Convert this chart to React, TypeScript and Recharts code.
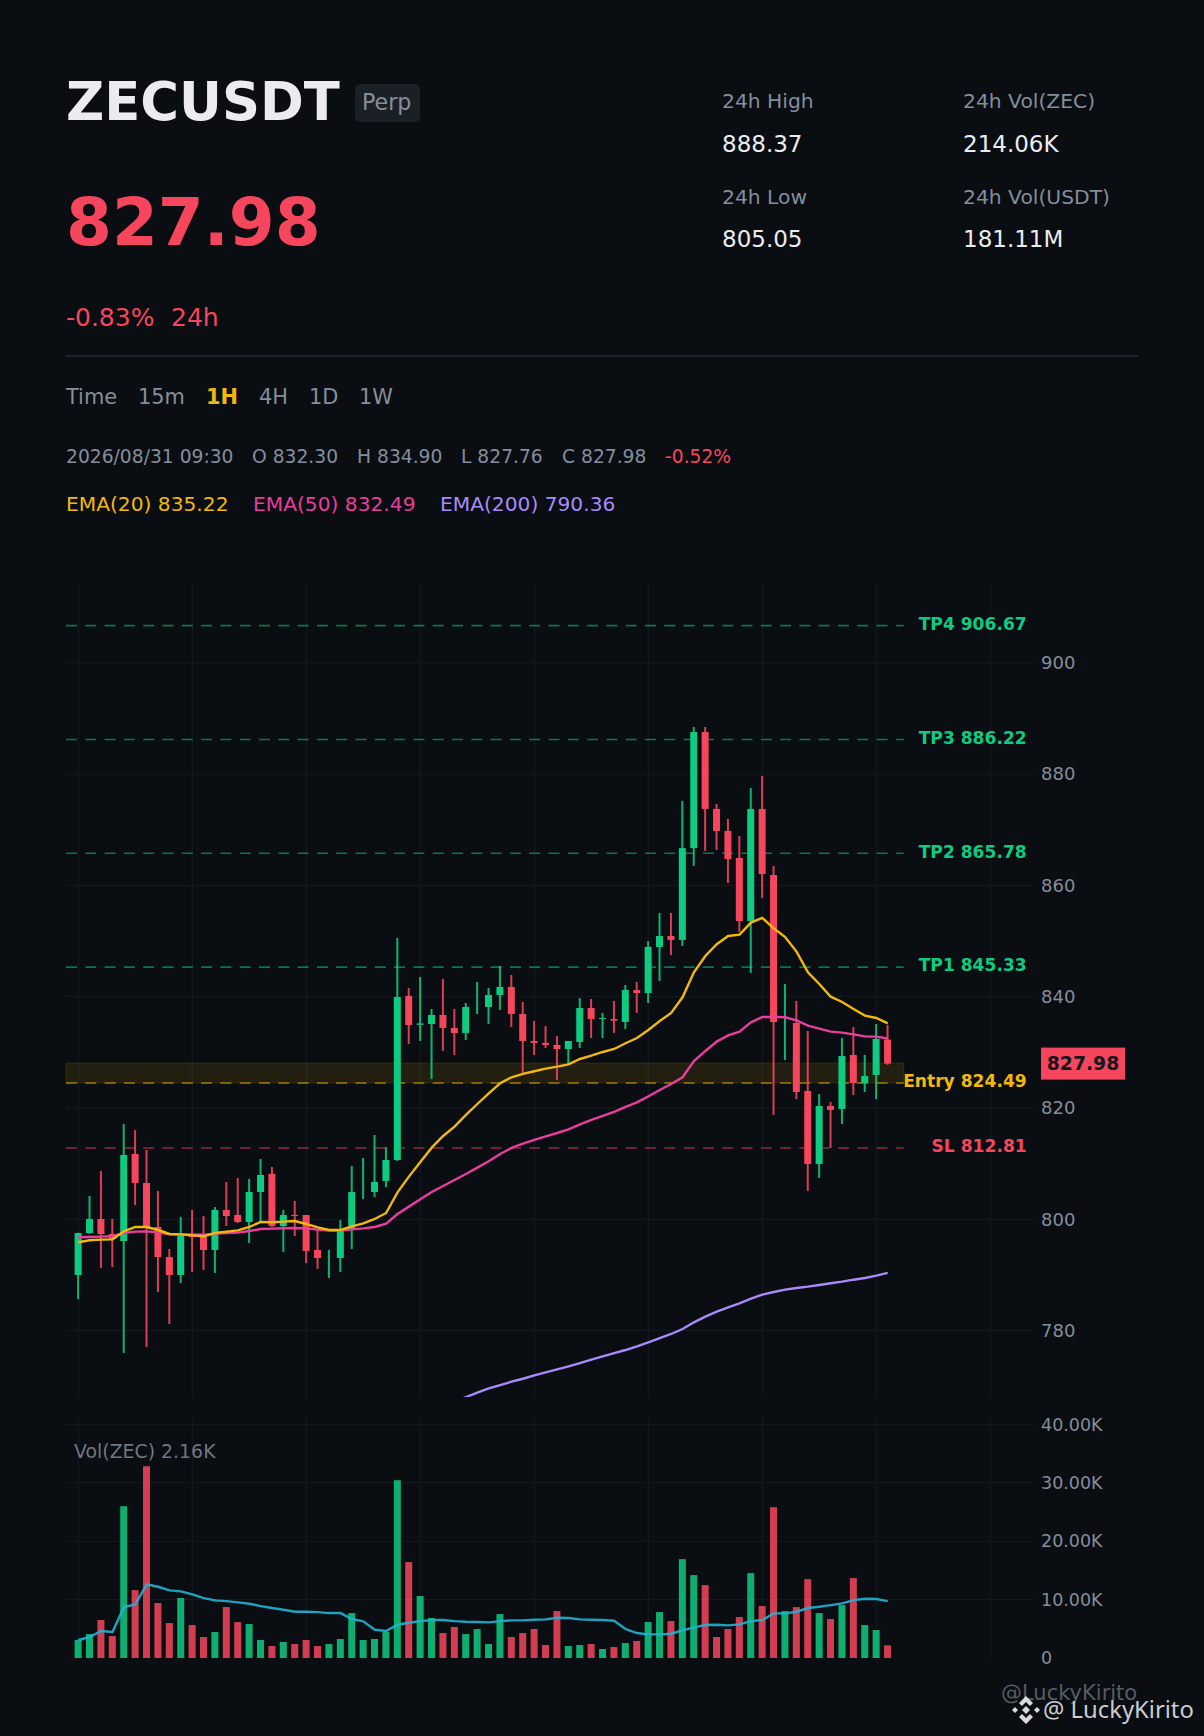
import React from 'react'
import {
  ComposedChart,
  Bar,
  Line,
  XAxis,
  YAxis,
  CartesianGrid,
  ReferenceLine,
  ReferenceArea,
  ReferenceDot
} from 'recharts'

const opens = [790.0, 797.54, 800.06, 797.36, 796.1, 811.74, 806.53, 798.62, 793.23, 790.0, 797.18, 796.83, 794.49, 801.68, 800.78, 799.52, 804.91, 808.15, 798.8, 800.78, 800.78, 794.49, 794.0, 793.05, 798.08, 805.0, 804.91, 806.89, 810.66, 840.13, 834.95, 835.1, 836.72, 834.38, 833.48, 838.0, 838.16, 840.31, 841.75, 836.9, 832.05, 831.7, 831.33, 830.6, 831.87, 837.97, 836.0, 836.0, 835.46, 841.2, 840.67, 848.94, 850.91, 850.2, 866.7, 887.57, 873.74, 869.78, 864.93, 853.6, 873.74, 861.87, 835.0, 835.28, 823.06, 809.94, 820.37, 819.83, 829.53, 824.5, 825.94, 832.3]
const closes = [797.54, 800.06, 797.36, 796.47, 811.56, 806.53, 798.62, 793.23, 790.0, 797.18, 796.83, 794.49, 801.68, 800.6, 799.52, 804.91, 807.97, 798.8, 800.78, 800.6, 794.31, 793.05, 794.0, 798.08, 804.91, 805.0, 806.71, 810.66, 839.95, 834.92, 835.2, 836.72, 834.38, 833.48, 838.16, 838.0, 840.31, 841.75, 836.9, 832.05, 831.7, 831.33, 830.6, 832.05, 837.97, 836.0, 836.18, 835.7, 841.2, 840.67, 848.94, 850.91, 850.2, 866.7, 887.57, 873.74, 869.78, 864.75, 853.6, 873.74, 862.05, 835.46, 835.0, 822.88, 809.94, 820.37, 819.65, 829.35, 824.5, 825.76, 832.41, 827.98]
const highs = [797.6, 804.2, 808.69, 800.06, 817.13, 816.05, 812.46, 805.09, 794.67, 800.42, 801.68, 800.6, 802.2, 806.7, 807.43, 807.25, 810.84, 809.4, 801.68, 803.3, 800.78, 798.1, 794.5, 799.88, 809.58, 811.02, 815.15, 813.0, 850.55, 841.57, 843.55, 837.8, 843.19, 837.8, 838.87, 842.65, 841.57, 845.52, 843.9, 839.05, 835.64, 834.74, 832.95, 832.05, 839.77, 839.6, 837.08, 839.23, 842.1, 842.65, 850.0, 855.05, 855.05, 875.17, 888.47, 888.47, 874.63, 871.94, 868.88, 877.5, 879.66, 863.49, 842.29, 839.23, 833.84, 822.52, 821.08, 832.58, 834.56, 829.53, 835.1, 834.9]
const lows = [785.68, 797.36, 791.25, 791.43, 775.98, 802.58, 777.06, 786.94, 781.19, 788.56, 790.54, 790.9, 790.36, 798.8, 799.34, 795.75, 799.5, 798.6, 794.13, 797.0, 792.15, 791.07, 789.46, 790.54, 794.67, 803.65, 804.0, 805.81, 810.48, 831.5, 832.05, 825.2, 830.25, 829.53, 832.23, 836.9, 835.1, 837.62, 834.56, 826.3, 829.53, 830.8, 825.04, 827.85, 830.8, 832.58, 832.58, 833.48, 834.2, 837.08, 838.87, 842.83, 847.5, 849.1, 863.5, 866.19, 866.37, 860.44, 851.63, 844.27, 857.74, 818.75, 828.63, 821.62, 805.09, 807.43, 812.82, 817.13, 822.34, 822.88, 821.62, 827.76]

const ema20 = [795.87, 796.23, 796.35, 796.4, 797.84, 798.62, 798.62, 798.08, 797.36, 797.3, 797.12, 796.95, 797.54, 797.78, 798.02, 798.62, 799.52, 799.46, 799.58, 799.7, 799.16, 798.56, 798.08, 798.08, 798.74, 799.28, 800.06, 801.14, 804.85, 807.67, 810.3, 812.88, 814.97, 816.65, 818.75, 820.72, 822.64, 824.44, 825.52, 826.12, 826.6, 827.07, 827.43, 827.85, 828.81, 829.41, 830.07, 830.61, 831.63, 832.58, 834.02, 835.64, 837.08, 839.89, 844.38, 847.32, 849.42, 850.91, 851.15, 853.31, 854.15, 852.29, 850.73, 848.1, 844.38, 842.29, 840.0, 839.05, 837.8, 836.6, 836.18, 835.22]
const ema50 = [796.77, 796.83, 796.89, 796.95, 797.54, 797.78, 797.84, 797.66, 797.3, 797.3, 797.3, 797.24, 797.42, 797.54, 797.6, 797.9, 798.26, 798.32, 798.38, 798.44, 798.38, 798.14, 797.96, 797.96, 798.2, 798.38, 798.62, 799.22, 800.96, 802.28, 803.59, 804.91, 805.99, 807.07, 808.15, 809.28, 810.42, 811.74, 812.82, 813.6, 814.26, 814.91, 815.51, 816.17, 817.07, 817.85, 818.57, 819.29, 820.19, 821.02, 822.1, 823.24, 824.32, 825.52, 828.45, 830.25, 831.93, 833.06, 833.72, 835.4, 836.36, 836.36, 836.3, 835.76, 834.8, 834.26, 833.72, 833.54, 833.24, 832.88, 832.82, 832.49]
const ema200 = [null, null, null, null, null, null, null, null, null, null, null, null, null, null, null, null, null, null, null, null, null, null, null, null, null, null, null, null, null, null, null, null, null, 767.3, 768.05, 768.84, 769.62, 770.22, 770.82, 771.35, 771.95, 772.49, 773.03, 773.57, 774.17, 774.77, 775.37, 775.97, 776.51, 777.17, 777.89, 778.67, 779.39, 780.29, 781.49, 782.51, 783.41, 784.19, 784.9, 785.74, 786.46, 786.94, 787.36, 787.66, 787.9, 788.2, 788.5, 788.8, 789.15, 789.45, 789.87, 790.36]

// volumes are in thousands of ZEC
const volumes = [3.08, 4.1, 6.5, 3.76, 25.98, 11.62, 32.82, 9.4, 5.98, 10.26, 5.64, 3.59, 4.44, 8.72, 6.15, 5.81, 3.08, 2.05, 2.74, 2.39, 3.08, 2.05, 2.39, 3.25, 7.69, 3.08, 3.25, 4.44, 30.43, 16.41, 10.6, 6.84, 4.27, 5.3, 4.1, 4.96, 2.39, 7.52, 3.59, 4.27, 4.96, 2.22, 8.03, 2.05, 2.22, 2.39, 1.54, 1.88, 2.56, 2.91, 6.15, 7.86, 6.32, 16.92, 14.19, 12.48, 3.59, 4.96, 7.01, 14.53, 8.89, 25.81, 8.03, 8.72, 13.5, 7.69, 6.67, 9.06, 13.68, 5.64, 4.79, 2.16]
const volumeMa = [3.08, 3.59, 4.62, 4.44, 8.72, 9.17, 12.59, 12.19, 11.57, 11.4, 10.88, 10.26, 9.86, 9.74, 9.52, 9.29, 8.89, 8.55, 8.26, 7.92, 7.92, 7.86, 7.69, 7.69, 6.67, 6.27, 4.84, 4.62, 5.7, 6.04, 6.32, 6.5, 6.5, 6.32, 6.21, 6.15, 6.1, 6.32, 6.44, 6.44, 6.55, 6.61, 6.89, 6.84, 6.61, 6.55, 6.5, 6.38, 4.96, 4.27, 4.05, 4.05, 4.16, 4.73, 5.24, 5.64, 5.7, 5.58, 5.75, 6.32, 6.5, 7.64, 7.64, 7.92, 8.55, 8.77, 9.06, 9.34, 9.91, 10.14, 10.09, 9.74]

const priceTicks = [780, 800, 820, 840, 860, 880, 900]
const volumeTicks = [0, 10, 20, 30, 40]
const timeGrid = [0, 10, 20, 30, 40, 50, 60, 70, 80]
const targets = [
  { name: 'TP4', price: 906.67 },
  { name: 'TP3', price: 886.22 },
  { name: 'TP2', price: 865.78 },
  { name: 'TP1', price: 845.33 }
]
const stopPrice = 812.81
const entryPrice = 824.49
const entryZoneTop = 828.1
const lastPrice = 827.98

const UP = '#0ecb81'
const DOWN = '#f6465d'
const GOLD = '#f0b90b'
const GRID = '#161b22'
const MUTED = '#848e9c'
const FONT = '"DejaVu Sans", sans-serif'

const X_MIN = -1.08
const X_MAX = 83.83
const LINE_END = 72.4

const rows = opens.map((open, i) => ({
  i,
  open,
  close: closes[i],
  high: highs[i],
  low: lows[i],
  ema20: ema20[i],
  ema50: ema50[i],
  ema200: ema200[i],
  volume: volumes[i],
  volumeMa: volumeMa[i]
}))

const isUp = (d: any) => d.close >= d.open

function Candle(props: any) {
  const { x, y, width, height, payload } = props
  const color = isUp(payload) ? UP : DOWN
  const perUnit = height / (payload.high - payload.low)
  const top = y + (payload.high - Math.max(payload.open, payload.close)) * perUnit
  const bodyHeight = Math.abs(payload.open - payload.close) * perUnit
  return (
    <g>
      <rect x={x + width / 2 - 1} y={y} width={2} height={height} fill={color} fillOpacity={0.88} />
      {bodyHeight > 0 && <rect x={x} y={top} width={width} height={bodyHeight} fill={color} />}
    </g>
  )
}

function VolumeBar(props: any) {
  const { x, y, width, height, payload } = props
  return <rect x={x} y={y} width={width} height={height} fill={isUp(payload) ? UP : DOWN} fillOpacity={0.85} />
}

const levelLabel = (text: string, color: string) => (p: any) => (
  <text
    x={p.viewBox.x + p.viewBox.width + 123}
    y={p.viewBox.y}
    dy="0.26em"
    textAnchor="end"
    fontSize={17.1}
    fontWeight={700}
    fontFamily={FONT}
    fill={color}
  >
    {text}
  </text>
)

function PriceTag(props: any) {
  const { cx, cy } = props
  return (
    <g>
      <rect x={cx + 7} y={cy - 16} width={84} height={32} fill={DOWN} />
      <text x={cx + 49} y={cy} dy="0.36em" textAnchor="middle" fontSize={18.8} fontWeight={700} fontFamily={FONT} fill="#14171c">
        {lastPrice.toFixed(2)}
      </text>
    </g>
  )
}

function Txt({ x, y, size, color, bold, children }: any) {
  return (
    <div
      style={{
        position: 'absolute',
        left: x,
        top: y,
        transform: 'translateY(-50%)',
        fontSize: size,
        lineHeight: 1,
        color,
        fontWeight: bold ? 700 : 400,
        whiteSpace: 'pre'
      }}
    >
      {children}
    </div>
  )
}

function Header() {
  return (
    <>
      <Txt x={66} y={102} size={52.8} color="#eaecef" bold>ZECUSDT</Txt>
      <div style={{ position: 'absolute', left: 355, top: 84, width: 65, height: 38, borderRadius: 5, background: '#1b1f26' }} />
      <Txt x={362} y={102} size={22.15} color={MUTED}>Perp</Txt>
      <Txt x={66} y={223} size={66} color={DOWN} bold>827.98</Txt>
      <Txt x={66} y={317} size={25} color={DOWN}>-0.83%</Txt>
      <Txt x={171} y={317} size={25} color={DOWN}>24h</Txt>

      <Txt x={722} y={101} size={20.3} color={MUTED}>24h High</Txt>
      <Txt x={722} y={144} size={23} color="#eaecef">888.37</Txt>
      <Txt x={722} y={197} size={20.3} color={MUTED}>24h Low</Txt>
      <Txt x={722} y={239} size={23} color="#eaecef">805.05</Txt>
      <Txt x={963} y={101} size={20.3} color={MUTED}>24h Vol(ZEC)</Txt>
      <Txt x={963} y={144} size={23} color="#eaecef">214.06K</Txt>
      <Txt x={963} y={197} size={20.3} color={MUTED}>24h Vol(USDT)</Txt>
      <Txt x={963} y={239} size={23} color="#eaecef">181.11M</Txt>

      <div style={{ position: 'absolute', left: 65, top: 355, width: 1074, height: 2, background: '#1c2230' }} />

      <Txt x={66} y={397} size={20.9} color={MUTED}>Time</Txt>
      <Txt x={138} y={397} size={20.9} color={MUTED}>15m</Txt>
      <Txt x={206} y={397} size={20.9} color={GOLD} bold>1H</Txt>
      <Txt x={259} y={397} size={20.9} color={MUTED}>4H</Txt>
      <Txt x={309} y={397} size={20.9} color={MUTED}>1D</Txt>
      <Txt x={359} y={397} size={20.9} color={MUTED}>1W</Txt>

      <Txt x={66} y={457} size={18.7} color={MUTED}>2026/08/31 09:30</Txt>
      <Txt x={252} y={457} size={18.7} color={MUTED}>O 832.30</Txt>
      <Txt x={357} y={457} size={18.7} color={MUTED}>H 834.90</Txt>
      <Txt x={461} y={457} size={18.7} color={MUTED}>L 827.76</Txt>
      <Txt x={562} y={457} size={18.7} color={MUTED}>C 827.98</Txt>
      <Txt x={665} y={457} size={18.7} color={DOWN}>-0.52%</Txt>

      <Txt x={66} y={504} size={20.2} color={GOLD}>EMA(20) 835.22</Txt>
      <Txt x={253} y={504} size={20.2} color="#e83e9c">EMA(50) 832.49</Txt>
      <Txt x={440} y={504} size={20.2} color="#a78bfa">EMA(200) 790.36</Txt>
    </>
  )
}

function PriceChart() {
  return (
    <ComposedChart width={1204} height={814} data={rows} margin={{ top: 0, right: 0, bottom: 0, left: 66 }}>
      <CartesianGrid stroke={GRID} horizontalValues={priceTicks} verticalValues={timeGrid} />
      <XAxis dataKey="i" type="number" domain={[X_MIN, X_MAX]} ticks={timeGrid} allowDataOverflow hide />
      <YAxis
        orientation="right"
        width={170}
        type="number"
        domain={[768.07, 914.34]}
        ticks={priceTicks}
        interval={0}
        allowDataOverflow
        tickLine={false}
        axisLine={false}
        tickMargin={1}
        tick={{ fill: MUTED, fontSize: 18, fontFamily: FONT }}
      />
      <ReferenceArea
        x1={X_MIN}
        x2={LINE_END}
        y1={entryPrice}
        y2={entryZoneTop}
        fill={GOLD}
        fillOpacity={0.11}
        stroke={GOLD}
        strokeOpacity={0.12}
        zIndex={50}
      />
      {targets.map(t => (
        <ReferenceLine
          key={t.name}
          segment={[{ x: X_MIN, y: t.price }, { x: LINE_END, y: t.price }]}
          stroke={UP}
          strokeOpacity={0.55}
          strokeWidth={1.7}
          strokeDasharray="11 8.3"
          zIndex={60}
          label={levelLabel(`${t.name} ${t.price.toFixed(2)}`, UP)}
        />
      ))}
      <ReferenceLine
        segment={[{ x: X_MIN, y: entryPrice }, { x: LINE_END, y: entryPrice }]}
        stroke={GOLD}
        strokeOpacity={0.6}
        strokeWidth={1.7}
        strokeDasharray="11 8.3"
        zIndex={60}
        label={levelLabel(`Entry ${entryPrice.toFixed(2)}`, GOLD)}
      />
      <ReferenceLine
        segment={[{ x: X_MIN, y: stopPrice }, { x: LINE_END, y: stopPrice }]}
        stroke={DOWN}
        strokeOpacity={0.55}
        strokeWidth={1.7}
        strokeDasharray="11 8.3"
        zIndex={60}
        label={levelLabel(`SL ${stopPrice.toFixed(2)}`, DOWN)}
      />
      <Bar dataKey={(d: any) => [d.low, d.high]} barSize={7} shape={Candle} isAnimationActive={false} />
      <Line dataKey="ema200" type="linear" stroke="#a78bfa" strokeWidth={2.4} dot={false} isAnimationActive={false} />
      <Line dataKey="ema50" type="linear" stroke="#e83e9c" strokeWidth={2.4} dot={false} isAnimationActive={false} />
      <Line dataKey="ema20" type="linear" stroke={GOLD} strokeWidth={2.4} dot={false} isAnimationActive={false} />
      <ReferenceDot x={X_MAX} y={lastPrice} ifOverflow="visible" shape={PriceTag} />
    </ComposedChart>
  )
}

function VolumeChart() {
  return (
    <ComposedChart width={1204} height={282} data={rows} margin={{ top: 20, right: 0, bottom: 22, left: 66 }}>
      <CartesianGrid stroke={GRID} horizontalValues={[10, 20, 30, 40]} verticalValues={timeGrid} />
      <XAxis dataKey="i" type="number" domain={[X_MIN, X_MAX]} ticks={timeGrid} allowDataOverflow hide />
      <YAxis
        orientation="right"
        width={170}
        type="number"
        domain={[0, 41.08]}
        ticks={volumeTicks}
        interval={0}
        allowDataOverflow
        tickLine={false}
        axisLine={false}
        tickMargin={1}
        tick={{ fill: MUTED, fontSize: 17.5, fontFamily: FONT }}
        tickFormatter={(v: number) => (v === 0 ? '0' : `${v.toFixed(2)}K`)}
      />
      <Bar dataKey="volume" barSize={7} shape={VolumeBar} isAnimationActive={false} />
      <Line dataKey="volumeMa" type="linear" stroke="#22b3d2" strokeOpacity={0.9} strokeWidth={2.4} dot={false} isAnimationActive={false} />
    </ComposedChart>
  )
}

function Watermark() {
  return (
    <>
      <Txt x={1001} y={1693} size={21} color="#565c64">@LuckyKirito</Txt>
      <svg width={30} height={30} viewBox="0 0 30 30" style={{ position: 'absolute', left: 1011, top: 1695 }}>
        <g fill="#d8dadd">
          <polygon points="15,1 22,8 19,11 15,7 11,11 8,8" />
          <polygon points="15,29 22,22 19,19 15,23 11,19 8,22" />
          <polygon points="15,11 19,15 15,19 11,15" />
          <polygon points="4,12 7,15 4,18 1,15" />
          <polygon points="26,12 29,15 26,18 23,15" />
        </g>
      </svg>
      <div
        style={{
          position: 'absolute',
          left: 1043,
          top: 1710,
          transform: 'translateY(-50%)',
          fontSize: 23.8,
          lineHeight: 1,
          color: '#c9ccd0',
          fontFamily: '"Noto Sans", sans-serif',
          whiteSpace: 'pre'
        }}
      >
        @ LuckyKirito
      </div>
    </>
  )
}

export default function App() {
  return (
    <div
      style={{
        position: 'absolute',
        left: 0,
        top: 0,
        width: 1204,
        height: 1736,
        overflow: 'hidden',
        background: '#0a0d11',
        fontFamily: FONT
      }}
    >
      <Header />
      <div style={{ position: 'absolute', left: 0, top: 583 }}>
        <PriceChart />
      </div>
      <div style={{ position: 'absolute', left: 0, top: 1398 }}>
        <VolumeChart />
      </div>
      <Txt x={74} y={1451} size={18.9} color="#6f7782">Vol(ZEC) 2.16K</Txt>
      <Watermark />
    </div>
  )
}
